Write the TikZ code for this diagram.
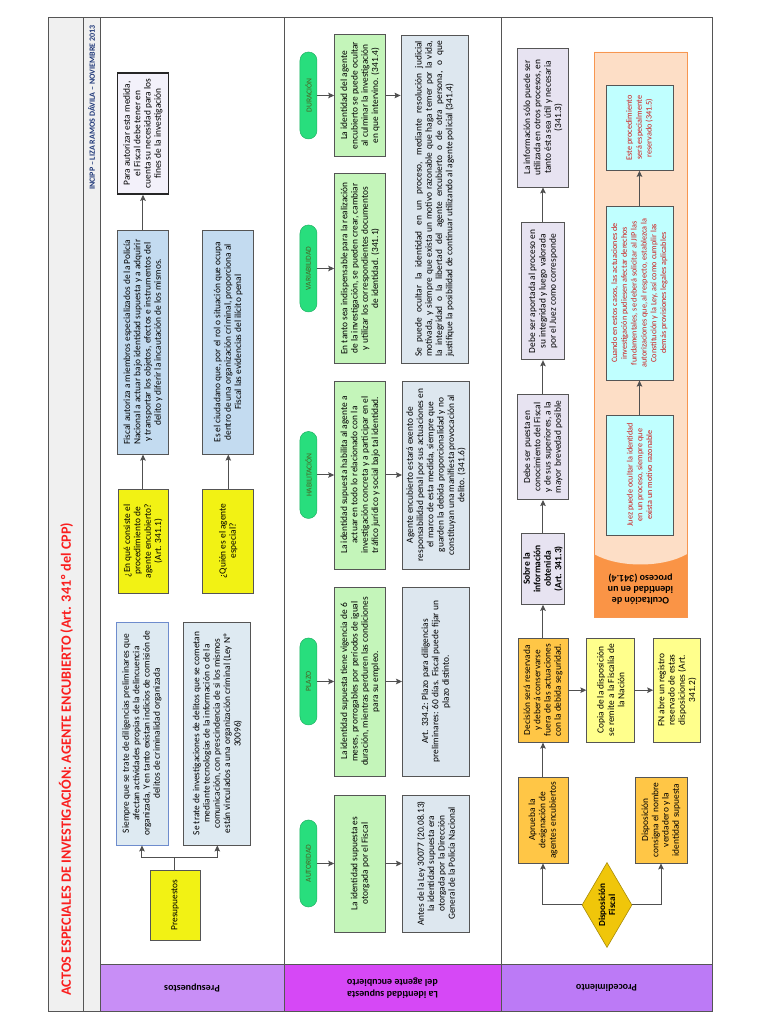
\documentclass[tikz,border=0pt]{standalone}
\usepackage{fontspec}
\setmainfont{Carlito}
\usetikzlibrary{arrows.meta,positioning,shapes.geometric}

\definecolor{lineg}{RGB}{85,85,85}
\definecolor{arrg}{RGB}{80,80,80}
\definecolor{yelf}{RGB}{242,242,20}
\definecolor{bluf}{RGB}{195,219,240}
\definecolor{palef}{RGB}{222,234,242}
\definecolor{bluline}{RGB}{110,140,205}
\definecolor{grnf}{RGB}{196,245,186}
\definecolor{gryf}{RGB}{221,231,239}
\definecolor{pillf}{RGB}{40,222,125}
\definecolor{pillt}{RGB}{75,95,30}
\definecolor{orgf}{RGB}{255,198,70}
\definecolor{lyelf}{RGB}{255,255,140}
\definecolor{diaf}{RGB}{240,198,10}
\definecolor{lavf}{RGB}{231,227,241}
\definecolor{cyaf}{RGB}{192,255,255}
\definecolor{redt}{RGB}{205,30,30}
\definecolor{peach}{RGB}{253,222,198}
\definecolor{orline}{RGB}{247,150,80}
\definecolor{orhead}{RGB}{250,148,70}
\definecolor{laneA}{RGB}{200,142,246}
\definecolor{laneB}{RGB}{214,72,246}
\definecolor{laneC}{RGB}{188,122,246}
\definecolor{titred}{RGB}{250,30,30}
\definecolor{navy}{RGB}{30,55,120}
\definecolor{bandg}{RGB}{240,240,240}
\definecolor{paraf}{RGB}{243,241,250}

\begin{document}
\begin{tikzpicture}[x=1pt,y=1pt,node distance=17pt and 34pt,
  box/.style={draw=lineg,line width=0.8pt,align=center,inner sep=1pt,
    font=\fontsize{9.4}{10.3}\selectfont},
  sz/.style 2 args={minimum width=#1pt,minimum height=#2pt},
  yel/.style={box,fill=yelf}, blu/.style={box,fill=bluf},
  pale/.style={box,fill=palef}, grn/.style={box,fill=grnf},
  gry/.style={box,fill=gryf}, org/.style={box,fill=orgf},
  lyel/.style={box,fill=lyelf}, lav/.style={box,fill=lavf},
  cya/.style={box,fill=cyaf,text=redt,font=\fontsize{8.2}{9.8}\selectfont},
  pill/.style={rounded corners=8.5pt,fill=pillf,draw=pillf!80!black,line width=0.5pt,
    minimum width=87pt,minimum height=17pt,inner sep=0pt,text=pillt,
    font=\fontsize{7.6}{8}\selectfont},
  lane/.style={rotate=90,align=center,font=\fontsize{10}{12}\selectfont\bfseries},
  link/.style={draw=arrg,->,line width=1pt},
  >={Stealth[length=6pt,width=5.5pt,inset=1pt]},
  every edge/.style={draw=arrg,->,line width=1pt}]
\begin{scope}[rotate=90,transform shape]
\useasboundingbox (0,0) rectangle (1024,768);
% bands and lanes
\fill[bandg] (12,668) rectangle (1006,719);
\fill[laneA] (12,484) rectangle (60,668);
\fill[laneB] (12,267) rectangle (60,484);
\fill[laneC] (12,56) rectangle (60,267);
\draw[lineg,line width=0.8pt] (12,685) -- (1006,685) (12,668) -- (1006,668)
  (12,484) -- (1006,484) (12,267) -- (1006,267) (60,56) -- (60,668);
\draw[lineg,line width=1pt] (12,56) rectangle (1006,719);
\node[anchor=west,text=titred,font=\fontsize{14.2}{16}\selectfont\bfseries] (tit) at (25,702)
  {ACTOS ESPECIALES DE INVESTIGACIÓN: AGENTE ENCUBIERTO (Art. 341º del CPP)};
\node[anchor=east,text=navy,font=\fontsize{8}{9}\selectfont\bfseries] (sub) at (1002,676.5)
  {INCIPP – LIZA RAMOS DÁVILA – NOVIEMBRE 2013};
\node[lane] (lpre) at (36,576) {Presupuestos};
\node[lane] (lid) at (36,375.5) {La identidad supuesta\\del agente encubierto};
\node[lane] (lproc) at (36,161.5) {Procedimiento};

% presupuestos
\node[yel,sz={70}{50}] (pres) at (119,593) {Presupuestos};
\node[pale,draw=bluline,sz={223}{52}] (sie) at (290.5,626) {Siempre que se trate de diligencias preliminares que\\afectan actividades propias de la delincuencia\\organizada, Y en tanto existan indicios de comisión de\\delitos de criminalidad organizada};
\node[pale,sz={223}{67},below=15pt of sie] (set) {Se trate de investigaciones de delitos que se cometan\\mediante tecnologías de la información o de la\\comunicación, con prescindencia de si los mismos\\están vinculados a una organización criminal (Ley Nº\\30096)};
\node[yel,sz={104}{50}] (que) at (483,625) {¿En qué consiste el\\procedimiento de\\agente encubierto?\\(Art. 341.1)};
\node[yel,sz={104}{51},below=34pt of que] (qui) {¿Quién es el agente\\especial?};
\node[blu,sz={224}{51},right=of que] (fis) {Fiscal autoriza a miembros especializados de la Policía\\Nacional a  actuar bajo identidad supuesta y a adquirir\\y transportar los objetos, efectos e instrumentos del\\delito y diferir la incautación de los mismos.};
\node[blu,sz={224}{51},right=of qui] (ciu) {Es el ciudadano que, por el rol o situación que ocupa\\dentro de una organización criminal, proporciona al\\Fiscal las evidencias del ilícito penal};
\node[box,fill=paraf,draw=black!85,line width=1.5pt,sz={121}{51},right=35pt of fis] (para) {Para autorizar esta medida,\\el Fiscal debe tener en\\cuenta su necesidad para los\\fines de la investigación};
\draw[arrg,line width=1pt] (pres.east) -- ++(12,0) coordinate (pj);
\draw[link] (pj) |- (sie.west);
\draw[link] (pj) |- (set.west);
\draw (que) edge (fis) (fis) edge (para) (qui) edge (ciu);

% identidad supuesta
\node[pill] (pA) at (160.5,459.5) {AUTORIDAD};
\node[pill] (pB) at (342.5,459.5) {PLAZO};
\node[pill] (pC) at (549,459.5) {HABILITACIÓN};
\node[pill] (pD) at (755.5,459.5) {VARIABILIDAD};
\node[pill] (pE) at (928.5,459.5) {DURACIÓN};
\node[grn,sz={137}{51},below=of pA] (gA) {La identidad supuesta es\\otorgada por el Fiscal};
\node[grn,sz={189}{51},below=of pB] (gB) {La identidad supuesta tiene vigencia de 6\\meses, prorrogables por períodos de igual\\duración, mientras perduren las condiciones\\para su empleo.};
\node[grn,sz={188}{51},below=of pC] (gC) {La identidad supuesta habilita al agente a\\actuar en todo lo relacionado con la\\investigación concreta y a participar en el\\tráfico jurídico y social bajo tal identidad.};
\node[grn,sz={190}{51},below=of pD] (gD) {En tanto sea indispensable para la realización\\de la investigación, se pueden crear, cambiar\\y utilizar los correspondientes documentos\\de identidad. (341.1)};
\node[grn,sz={122}{51},below=of pE] (gE) {La identidad del agente\\encubierto se puede ocultar\\al culminar la investigación\\en que intervino. (341.4)};
\node[gry,sz={137}{67},below=16pt of gA] (rA) {Antes de la Ley 30077 (20.08.13)\\la identidad supuesta era\\otorgada por la Dirección\\General de la Policía Nacional};
\node[gry,sz={189}{67},below=16pt of gB] (rB) {Art. 334.2: Plazo para diligencias\\preliminares: 60 días. Fiscal puede fijar un\\plazo distinto.};
\node[gry,sz={188}{67},below=16pt of gC] (rC) {Agente encubierto estará exento de\\responsabilidad penal por sus actuaciones en\\el marco de esta medida, siempre que\\guarden la debida proporcionalidad y no\\constituyan una manifiesta provocación al\\delito. (341.6)};
\node[gry,sz={328}{67}] (rD) at (825,333.5) {%
  \makebox[316pt][s]{Se puede ocultar la identidad en un proceso, mediante resolución judicial}\\
  \makebox[316pt][s]{motivada, y siempre que exista un motivo razonable que haga temer por la vida,}\\
  \makebox[316pt][s]{la integridad o la libertad del agente encubierto o de otra persona, o que}\\
  \makebox[316pt][l]{justifique la posibilidad de continuar utilizando al agente policial (341.4)}};
\draw (pA) edge (gA) (gA) edge (rA) (pB) edge (gB) (gB) edge (rB)
  (pC) edge (gC) (gC) edge (rC) (pD) edge (gD) (pE) edge (gE);
\draw[link] (gE.south) -- (gE.south |- rD.north);

% procedimiento
\filldraw[fill=orhead,draw=orline,line width=0.8pt] (407,81) rectangle (972,174);
\fill[peach] (972,81) -- (470,81) .. controls (456,105) and (456,150) .. (470,174) -- (972,174) -- cycle;
\draw[orline,line width=0.8pt] (407,81) rectangle (972,174);
\node[rotate=90,align=center,font=\fontsize{10}{11}\selectfont\bfseries] (ocu) at (435,127.5) {Ocultación de\\identidad en un\\proceso (341.4)};
\node[diamond,draw=diaf!70!black,fill=diaf,line width=0.6pt,aspect=1.7,minimum width=85pt,
  minimum height=50pt,inner sep=0pt,align=center,font=\fontsize{9.2}{10}\selectfont\bfseries] (dia) at (119,161) {Disposición\\Fiscal};
\node[org,sz={86}{50}] (apr) at (204,225) {Aprueba la\\designación de\\agentes encubiertos};
\node[org,sz={86}{52}] (dis) at (204,107) {Disposición\\consigna el nombre\\verdadero y la\\identidad supuesta};
\node[org,sz={104}{50},right=of apr] (dec) {Decisión será reservada\\y deberá conservarse\\fuera de las actuaciones\\con la debida seguridad.};
\node[lyel,sz={104}{48},below=18pt of dec] (cop) {Copia de la disposición\\se remite a la Fiscalía de\\la Nación};
\node[lyel,sz={104}{47},below=18pt of cop] (fn) {FN abre un registro\\reservado de estas\\disposiciones (Art.\\341.2)};
\node[lav,sz={71}{43},right=33pt of dec,font=\fontsize{9.5}{10.5}\selectfont\bfseries] (sob) {Sobre la\\información\\obtenida\\(Art. 341.3)};
\node[lav,sz={105}{51},right=33pt of sob] (deb1) {Debe ser puesta en\\conocimiento del Fiscal\\y de sus superiores, a la\\mayor brevedad posible};
\node[lav,sz={137}{43},right=of deb1] (deb2) {Debe ser aportada al proceso en\\su integridad y luego valorada\\por el Juez como corresponde};
\node[lav,sz={139}{51},right=35pt of deb2] (inf) {La información sólo puede ser\\utilizada en otros procesos, en\\tanto ésta sea útil y necesaria\\(341.3)};
\node[cya,sz={120}{67}] (juez) at (549,128.5) {Juez puede ocultar la identidad\\en un proceso, siempre que\\exista un motivo razonable};
\node[cya,sz={174}{67},right=of juez] (cua) {Cuando en estos casos, las actuaciones de\\investigación pudiesen afectar derechos\\fundamentales, se deberá solicitar al JIP las\\autorizaciones que, al respecto, establezca la\\Constitución y la Ley, así como cumplir las\\demás provisiones legales aplicables};
\node[cya,sz={85}{67},right=35pt of cua] (est) {Este procedimiento\\será especialmente\\reservado (341.5)};
\draw[link] (dia.north) |- (apr.west);
\draw[link] (dia.south) |- (dis.west);
\draw (apr) edge (dec) (dec) edge (sob) (sob) edge (deb1) (deb1) edge (deb2)
  (deb2) edge (inf) (dec) edge (cop) (cop) edge (fn) (juez) edge (cua) (cua) edge (est);
\end{scope}
\end{tikzpicture}
\end{document}
